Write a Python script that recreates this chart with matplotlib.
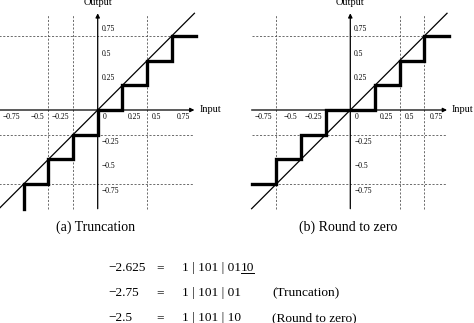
import numpy as np
import matplotlib
matplotlib.use("Agg")
import matplotlib.pyplot as plt

plt.rcParams['font.family'] = ['Liberation Serif', 'DejaVu Serif']

# quantiser staircases (step, where='post')
trunc_in = [-0.75, -0.75, -0.5, -0.25, 0.0, 0.25, 0.5, 0.75, 1.0]
trunc_out = [-1.0, -0.75, -0.5, -0.25, 0.0, 0.25, 0.5, 0.75, 0.75]
rtz_in = [-1.0, -0.75, -0.5, -0.25, 0.0, 0.25, 0.5, 0.75, 1.0]
rtz_out = [-0.75, -0.5, -0.25, 0.0, 0.0, 0.25, 0.5, 0.75, 0.75]

tick_vals = [-0.75, -0.5, -0.25, 0.0, 0.25, 0.5, 0.75]
tick_text = ['\u22120.75', '\u22120.5', '\u22120.25', '0', '0.25', '0.5', '0.75']
ytick_vals = [0.75, 0.5, 0.25, -0.25, -0.5, -0.75]
ytick_text = ['0.75', '0.5', '0.25', '\u22120.25', '\u22120.5', '\u22120.75']

# dashed guide lines per panel
trunc_vgrid = [-0.5, -0.25, 0.5]
rtz_vgrid = [-0.75, 0.5, 0.75]
hgrid = [0.75, -0.25, -0.75]

# binary example rows
lhs = ['\u22122.625', '\u22122.75', '\u22122.5']
rhs = ['1 | 101 | 01', '1 | 101 | 01', '1 | 101 | 10']
notes = ['', '(Truncation)', '(Round to zero)']

W, H = 474, 323
fig = plt.figure(figsize=(W / 100, H / 100), dpi=100)

unit = 98.7      # pixels per unit input/output
y0_px = 110.0    # row of the Input axis (from top)
ax_h_px = 240.0


def make_panel(left_px, width_px, origin_px):
    ax = fig.add_axes([left_px / W, (H - ax_h_px) / H, width_px / W, ax_h_px / H])
    ax.set_xlim(-(origin_px - left_px) / unit, (left_px + width_px - origin_px) / unit)
    ax.set_ylim(-(ax_h_px - y0_px) / unit, y0_px / unit)
    ax.axis('off')
    return ax


def draw_panel(ax, xs, ys, vgrid, caption):
    dash = dict(color='#555555', lw=0.6, ls=(0, (2.5, 2)))
    for v in vgrid:
        ax.plot([v, v], [-1.0, 0.97], **dash)
    for h in hgrid:
        ax.plot([-1.0, 0.97], [h, h], **dash)

    ax.plot([-1.0, 0.98], [-1.0, 0.98], color='black', lw=0.9)

    arrow = dict(arrowstyle='-|>', color='black', lw=0.9, mutation_scale=6,
                 shrinkA=0, shrinkB=0)
    ax.annotate('', xy=(0.98, 0), xytext=(-1.0, 0), arrowprops=arrow)
    ax.annotate('', xy=(0, 0.98), xytext=(0, -1.0), arrowprops=arrow)

    ax.step(xs, ys, where='post', color='black', lw=2.4, solid_joinstyle='miter')

    for v, t in zip(tick_vals, tick_text):
        if v < 0:
            ax.text(v - 0.04, -0.075, t, ha='right', va='center', fontsize=5.5)
        else:
            ax.text(v + 0.05, -0.075, t, ha='left', va='center', fontsize=5.5)
    for v, t in zip(ytick_vals, ytick_text):
        ax.text(0.04, v + np.sign(v) * 0.07, t, ha='left', va='center', fontsize=5.5)

    ax.text(1.03, 0.0, 'Input', ha='left', va='center', fontsize=7.5)
    ax.text(0.0, 1.085, 'Output', ha='center', va='center', fontsize=7.5, clip_on=False)
    ax.text(-0.02, -1.185, caption, ha='center', va='center', fontsize=10)


ax_a = make_panel(0, 237, 97.7)
draw_panel(ax_a, trunc_in, trunc_out, trunc_vgrid, '(a) Truncation')
ax_b = make_panel(237, 237, 350.3)
draw_panel(ax_b, rtz_in, rtz_out, rtz_vgrid, '(b) Round to zero')

# binary representation rows
rows_px = [268, 293, 318]
fs = 9.6
renderer = fig.canvas.get_renderer()
for i, ypx in enumerate(rows_px):
    fy = 1 - ypx / H
    fig.text(108 / W, fy, lhs[i], ha='left', va='center', fontsize=fs)
    fig.text(160 / W, fy, '=', ha='center', va='center', fontsize=fs)
    t = fig.text(182 / W, fy, rhs[i], ha='left', va='center', fontsize=fs)
    if i == 0:
        # guard bits, underlined
        bb = t.get_window_extent(renderer)
        g = fig.text(bb.x1 / W, fy, '10', ha='left', va='center', fontsize=fs)
        gb = g.get_window_extent(renderer)
        fig.add_artist(plt.Line2D([gb.x0 / W, gb.x1 / W],
                                  [(gb.y0 + 1.5) / H, (gb.y0 + 1.5) / H],
                                  color='black', lw=0.7))
    if notes[i]:
        fig.text(272 / W, fy, notes[i], ha='left', va='center', fontsize=fs)

fig.savefig('out.png', dpi=100)
